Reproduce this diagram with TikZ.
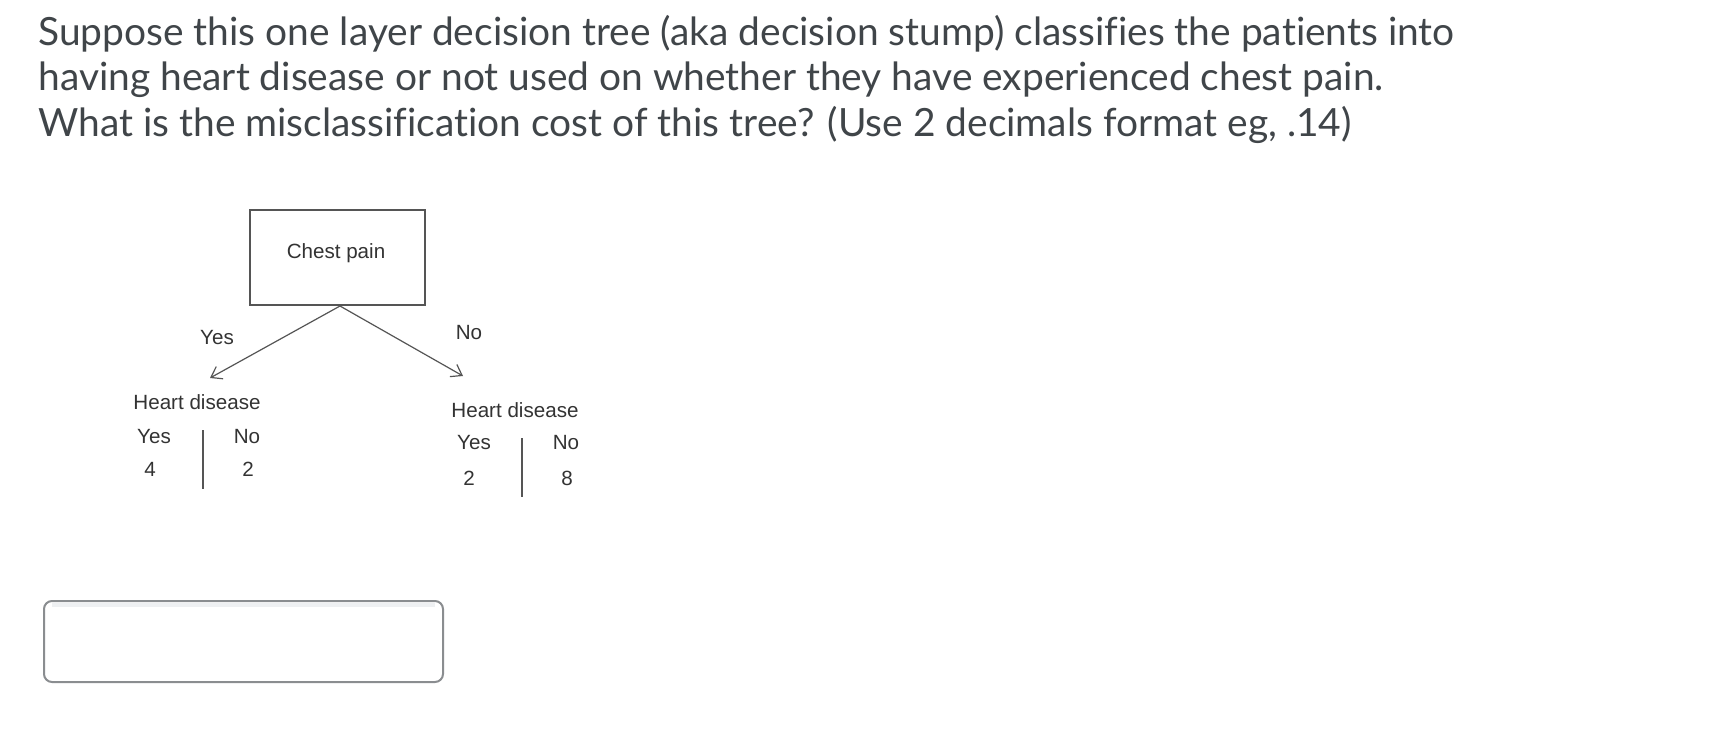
\documentclass[tikz,border=0pt]{standalone}
\usepackage{fontspec}
\setmainfont[Ligatures=NoCommon]{Lato}
\newfontfamily\arialf{Liberation Sans}
\usetikzlibrary{arrows.meta}
\definecolor{qtext}{HTML}{404549}
\definecolor{treetext}{HTML}{333333}
\definecolor{treeline}{HTML}{555555}
\definecolor{boxborder}{HTML}{8A8D90}
\definecolor{boxshade}{HTML}{EEF0F2}
\begin{document}
\begin{tikzpicture}[x=0.5pt,y=-0.5pt,
  qline/.style={anchor=base west,inner sep=0pt,text=qtext,font=\fontsize{19.45pt}{23pt}\selectfont},
  tlabel/.style={inner sep=0pt,text=treetext,font=\arialf\fontsize{10.3pt}{12pt}\selectfont},
  edge/.style={draw=treeline,line width=0.6pt,-{Straight Barb[length=5pt,width=7pt]}}]
\useasboundingbox[fill=white] (0,0) rectangle (1728,728);
% question text
\node[qline] (l1) at (38,45) {Suppose this one layer decision tree (aka decision stump) classifies the patients into};
\node[qline] (l2) at (38,90) {having heart disease or not used on whether they have experienced chest pain.};
\node[qline] (l3) at (38,136) {What is the misclassification cost of this tree? (Use 2 decimals format eg, .14)};
% root
\node[draw=treeline,line width=0.8pt,minimum width=87.5pt,minimum height=47.5pt,inner sep=0pt] (cp) at (337.5,257.5) {};
\node[tlabel] (cpt) at (336,253) {Chest pain};
\coordinate (root) at (340,306);
\coordinate (ytip) at (210,378);
\coordinate (ntip) at (463,376);
\draw[edge] (root) -- (ytip);
\draw[edge] (root) -- (ntip);
\node[tlabel] (yes) at (217,338) {Yes};
\node[tlabel] (no) at (469,333) {No};
% left leaf
\node[tlabel] (lhd) at (197,402) {Heart disease};
\node[tlabel] (lyes) at (154,437) {Yes};
\node[tlabel] (lno) at (247,437) {No};
\node[tlabel] (l4) at (150,469) {4};
\node[tlabel] (l2n) at (248,469) {2};
\coordinate (lvt) at (203,430);
\coordinate (lvb) at (203,489);
\draw[treeline,line width=0.7pt] (lvt) -- (lvb);
% right leaf
\node[tlabel] (rhd) at (515,410) {Heart disease};
\node[tlabel] (ryes) at (474,443) {Yes};
\node[tlabel] (rno) at (566,443) {No};
\node[tlabel] (r2) at (469,478) {2};
\node[tlabel] (r8) at (567,478) {8};
\coordinate (rvt) at (522,438);
\coordinate (rvb) at (522,497);
\draw[treeline,line width=0.7pt] (rvt) -- (rvb);
% answer box
\draw[boxshade,line width=2pt] (52,605) -- (435,605);
\node[draw=boxborder,line width=1pt,rounded corners=4pt,minimum width=199.5pt,minimum height=40.5pt,inner sep=0pt] (ans) at (243.5,641.5) {};
\end{tikzpicture}
\end{document}
